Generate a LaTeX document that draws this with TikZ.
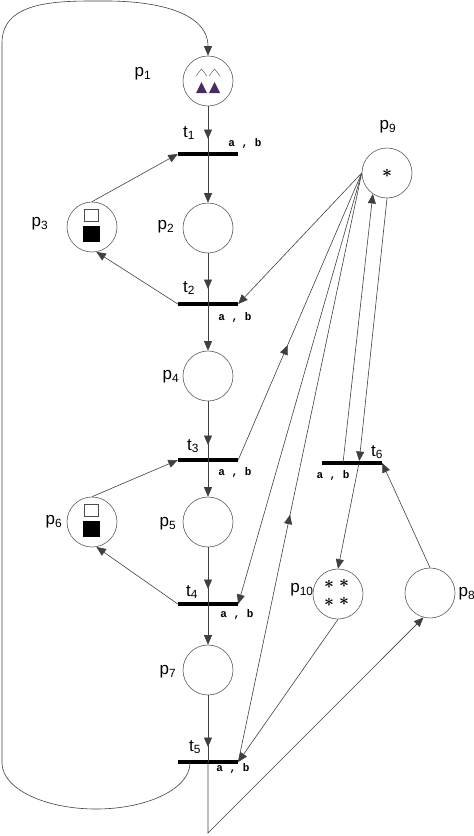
\documentclass[tikz,border=0pt]{standalone}
\usepackage{amsmath}
\usepackage{fontspec}
\setmainfont{Liberation Sans}
\setmonofont{Liberation Mono}
\usetikzlibrary{arrows.meta,decorations.markings}
\definecolor{tokpurple}{RGB}{74,43,94}

\begin{document}
\begin{tikzpicture}
	[x=1pt,y=-1pt,
	place/.style={circle,draw=black!65,line width=.6pt,minimum size=50pt,inner sep=0pt},
	trans/.style={fill=black,minimum width=60pt,minimum height=3.6pt,inner sep=0pt},
	arc/.style={draw=black!75,line width=.6pt},
	endarr/.style={-{Triangle[length=9.5pt,width=8pt]}},
	midarr/.style={postaction={decorate},decoration={markings,mark=at position #1 with {\arrow{Triangle[length=9.5pt,width=8pt]}}}},
	lbl/.style={font=\fontsize{17}{17}\selectfont},
	ab/.style={font=\ttfamily\bfseries\fontsize{11}{11}\selectfont},
	tok/.style={font=\fontsize{17}{17}\selectfont,inner sep=0pt}]
	\useasboundingbox (0,0) rectangle (474,836);
	\node[place] (p1) at (208,81) {};
	\node[trans] (t1) at (208,154) {};
	\node[place] (p2) at (208,228) {};
	\node[place] (p3) at (92,227) {};
	\node[trans] (t2) at (208,304) {};
	\node[place] (p4) at (208,376) {};
	\node[trans] (t3) at (208,460) {};
	\node[place] (p5) at (208,522) {};
	\node[place] (p6) at (92,522) {};
	\node[trans] (t4) at (208,604) {};
	\node[place] (p7) at (208,670) {};
	\node[trans] (t5) at (208,762) {};
	\node[place,tok] (p9) at (387,173) {$\boldsymbol{\ast}$};
	\node[trans] (t6) at (352,463) {};
	\node[place] (p10) at (338,594) {};
	\node[place] (p8) at (430,593) {};
	
	\node[lbl] (lp1) at (143,74) {p\textsubscript{1}};
	\node[lbl] (lp2) at (166,227) {p\textsubscript{2}};
	\node[lbl] (lp3) at (40,224) {p\textsubscript{3}};
	\node[lbl] (lp4) at (171,377) {p\textsubscript{4}};
	\node[lbl] (lp5) at (168,524) {p\textsubscript{5}};
	\node[lbl] (lp6) at (54,522) {p\textsubscript{6}};
	\node[lbl] (lp7) at (168,672) {p\textsubscript{7}};
	\node[lbl] (lp8) at (467,594) {p\textsubscript{8}};
	\node[lbl] (lp9) at (388,127) {p\textsubscript{9}};
	\node[lbl] (lp10) at (302,590) {p\textsubscript{10}};
	\node[lbl] (lt1) at (189,133) {t\textsubscript{1}};
	\node[lbl] (lt2) at (189,288) {t\textsubscript{2}};
	\node[lbl] (lt3) at (193,446) {t\textsubscript{3}};
	\node[lbl] (lt4) at (192,592) {t\textsubscript{4}};
	\node[lbl] (lt5) at (195,747) {t\textsubscript{5}};
	\node[lbl] (lt6) at (377,452) {t\textsubscript{6}};
	\node[ab] (ab1) at (245,143) {a , b};
	\node[ab] (ab2) at (235,317) {a , b};
	\node[ab] (ab3) at (235,472) {a , b};
	\node[ab] (ab4) at (237,614) {a , b};
	\node[ab] (ab5) at (233,768) {a , b};
	\node[ab] (ab6) at (333,475) {a , b};
	
	\draw[black!70,line width=.4pt] (196,76) -- (201.5,69) -- (207,76) (209,76) -- (214.5,69) -- (220,76);
	\fill[tokpurple] (196,93) -- (201.5,82) -- (207,93) -- cycle (209,93) -- (214.5,82) -- (220,93) -- cycle;
	\foreach \p in {p3,p6}
	{\draw[black!70,fill=white,line width=.4pt] ([shift={(-8,-18)}]\p.center) rectangle +(14,12);
	\fill ([shift={(-9,-1)}]\p.center) rectangle +(17,16);}
	\foreach \i/\x/\y in {1/329/584,2/344/583,3/329/602,4/344/601}
	\node[tok] (s\i) at (\x,\y) {$\boldsymbol{\ast}$};
	
	\coordinate (t6a) at (343,463);
	\coordinate (t6b) at (359,463);
	\coordinate (t5l) at (190,763);
	\coordinate (bend) at (208,833);
	\coordinate (looptl) at (2,43);
	\coordinate (loopt) at (107,1);
	
	\foreach \from/\to in {p1/t1,p2/t2,p4/t3,p5/t4,p7/t5}
	\draw[arc,midarr=-15pt] (\from) -- (\to.center);
	\foreach \from/\to in {t1/p2,t2/p4,t3/p5,t4/p7}
	\draw[arc,endarr] (\from.center) -- (\to);
	\foreach \from/\to in {p3.north/t1.west,t2.west/p3.-80,p9.west/t2.east,p6.north/t3.west,t4.west/p6.-80,p9.west/t4.east,p10.south/t5.east,p8.north/t6.east,t6a/p9.236,t6b/p10.north}
	\draw[arc,endarr] (\from) -- (\to);
	\draw[arc,endarr,shorten >=2pt] (p9.south) -- (t6b);
	\draw[arc,midarr=.4] (t3.east) -- (p9.west);
	\draw[arc,midarr=.42] (t5.east) -- (p9.west);
	\draw[arc,endarr] (t5.center) -- (bend) -- (p8.255);
	\draw[arc,endarr] (t5l) arc[start angle=0,end angle=180,x radius=94,y radius=46] -- (looptl) to[out=90,in=180] (loopt) to[out=0,in=90] (p1.north);
\end{tikzpicture}
\end{document}
